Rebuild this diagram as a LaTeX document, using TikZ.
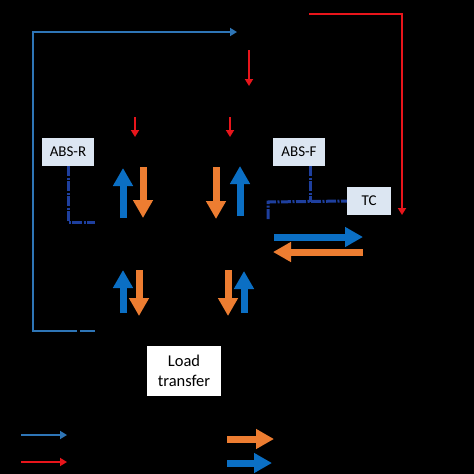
\documentclass[tikz,border=0pt]{standalone}
\usepackage{fontspec}
\setmainfont{Carlito}
\usetikzlibrary{arrows.meta}

\definecolor{azul}{HTML}{0B6FC4}
\definecolor{azullinea}{HTML}{2E75B6}
\definecolor{naranja}{HTML}{ED7D31}
\definecolor{rojo}{HTML}{E8151B}
\definecolor{azuloscuro}{HTML}{1E3F9E}
\definecolor{cajafondo}{HTML}{DCE6F2}

\tikzset{
  caja/.style={fill=cajafondo, minimum width=52pt, minimum height=28pt, inner sep=0pt, font=\fontsize{15}{17}\selectfont},
  bloque/.style={line width=7pt, -{Triangle[width=19pt,length=18pt]}},
  linea/.style={line width=2.5pt, -{Triangle[width=8pt,length=7pt]}},
  enlace/.style={draw=azuloscuro, line width=3pt, dash pattern=on 10pt off 1.5pt on 2pt off 1.5pt}
}

\begin{document}
\begin{tikzpicture}[x=1pt,y=-1pt]
        % Fondo
        \fill[black] (0,0) rectangle (474,474);
        \useasboundingbox (0,0) rectangle (474,474);

        % Cajas
        \node[caja] (absr) at (68,152) {ABS-R};
        \node[caja] (absf) at (299,152) {ABS-F};
        \node[caja, minimum width=44pt] (tc) at (369,201) {TC};
        \node[caja, fill=white, minimum width=74pt, minimum height=50pt, align=center,
              font=\fontsize{16.5}{20}\selectfont] (carga) at (184,371) {Load\\transfer};

        % Enlaces
        \coordinate (r1) at (68,222);
        \coordinate (r2) at (95,222);
        \draw[enlace] (absr.south) -- (r1) -- (r2);
        \coordinate (f1) at (310,202);
        \coordinate (f2) at (268,202);
        \coordinate (f3) at (268,219);
        \draw[enlace] (absf.south -| f1) -- (f1);
        \draw[enlace] (f3) -- (f2) -- (tc.west);

        % Linea azul
        \coordinate (a1) at (77,331);
        \coordinate (a2) at (33,331);
        \coordinate (a3) at (33,32);
        \coordinate (a4) at (237,32);
        \draw[azullinea, linea] (a1) -- (a2) -- (a3) -- (a4);
        \draw[azullinea, line width=2.5pt] (80,331) -- (95,331);

        % Linea roja
        \coordinate (b1) at (309,14);
        \coordinate (b2) at (402,14);
        \coordinate (b3) at (402,215);
        \draw[rojo, linea] (b1) -- (b2) -- (b3);
        \draw[rojo, linea] (249,50) -- (249,86);
        \draw[rojo, linea] (135,117) -- (135,137);
        \draw[rojo, linea] (230,117) -- (230,137);

        % Flechas verticales
        \draw[azul, bloque] (123,218) -- (123,168);
        \draw[naranja, bloque] (143,167) -- (143,218);
        \draw[naranja, bloque] (216,167) -- (216,219);
        \draw[azul, bloque] (240,216) -- (240,166);
        \draw[azul, bloque] (123,313) -- (123,270);
        \draw[naranja, bloque] (139,270) -- (139,316);
        \draw[naranja, bloque] (228,270) -- (228,316);
        \draw[azul, bloque] (244,313) -- (244,271);

        % Flechas horizontales
        \draw[azul, bloque] (274,237) -- (363,237);
        \draw[naranja, bloque] (363,252) -- (273,252);

        % Leyenda
        \draw[azullinea, linea] (21,435) -- (67,435);
        \draw[rojo, linea] (21,462) -- (67,462);
        \draw[naranja, bloque] (227,439) -- (274,439);
        \draw[azul, bloque] (227,463) -- (272,463);
    \end{tikzpicture}
\end{document}
